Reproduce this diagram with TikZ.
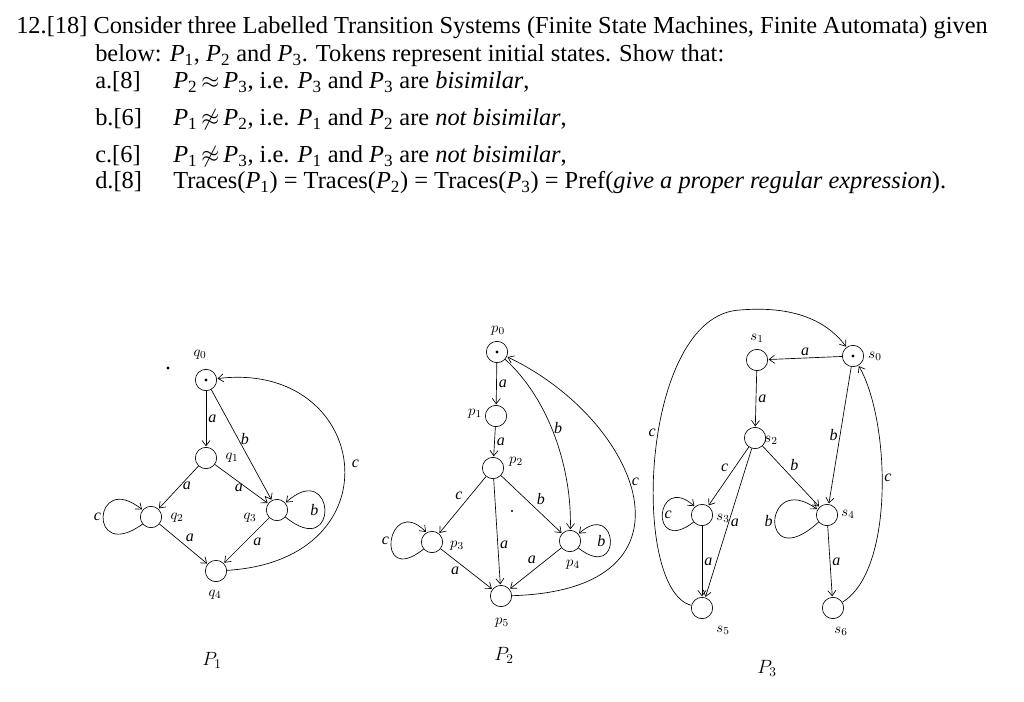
\documentclass[tikz,border=0pt]{standalone}
\usepackage{fontspec}
\setmainfont{Liberation Serif}
\usetikzlibrary{arrows.meta}
\newcommand{\Pn}[1]{{\itshape P}\textsubscript{#1}}
\begin{document}
\begin{tikzpicture}[x=0.75pt,y=-0.75pt,
  st/.style={circle,draw,minimum size=16pt,inner sep=0pt,line width=0.5pt},
  lb/.style={font=\itshape\fontsize{12}{12}\selectfont,inner sep=1.5pt},
  nm/.style={font=\fontsize{11}{11}\selectfont,inner sep=1pt},
  tx/.style={anchor=base west,inner sep=0pt,font=\fontsize{18.3}{20}\selectfont},
  ed/.style={-{Straight Barb[length=4pt,width=6pt]},line width=0.5pt,shorten >=0.5pt},
  tok/.style={circle,fill,inner sep=0.9pt}]
\useasboundingbox (0,0) rectangle (1024,702);
% text
\node[tx] (t1) at (16,34) {12.[18] Consider three Labelled Transition Systems (Finite State Machines, Finite Automata) given};
\node[tx] (t2) at (95,62) {below: \Pn{1}, \Pn{2} and \Pn{3}. Tokens represent initial states. Show that:};
\node[tx] (t3a) at (95,89) {a.[8]};
\node[tx] (t3b) at (173,89) {\Pn{2}\,$\approx$\,\Pn{3}, i.e. \Pn{3} and \Pn{3} are \textit{bisimilar},};
\node[tx] (t4a) at (95,126) {b.[6]};
\node[tx] (t4b) at (173,126) {\Pn{1}\,$\not\approx$\,\Pn{2}, i.e. \Pn{1} and \Pn{2} are \textit{not bisimilar},};
\node[tx] (t5a) at (95,163) {c.[6]};
\node[tx] (t5b) at (173,163) {\Pn{1}\,$\not\approx$\,\Pn{3}, i.e. \Pn{1} and \Pn{3} are \textit{not bisimilar},};
\node[tx] (t6a) at (95,189) {d.[8]};
\node[tx] (t6b) at (173,189) {Traces(\Pn{1}) = Traces(\Pn{2}) = Traces(\Pn{3}) = Pref(\textit{give a proper regular expression}).};
% ---------- P1
\node[st] (q0) at (206,380) {};
\node[tok] (q0t) at (206,380) {};
\node[st] (q1) at (206,458) {};
\node[st] (q2) at (151,517) {};
\node[st] (q3) at (277,510) {};
\node[st] (q4) at (216,571) {};
\node[tok,inner sep=0.8pt] (d1) at (168,368) {};
\node[nm] (lq0) at (200,355) {$q_0$};
\node[nm] (lq1) at (232,458) {$q_1$};
\node[nm] (lq2) at (177,518) {$q_2$};
\node[nm] (lq3) at (250,518) {$q_3$};
\node[nm] (lq4) at (215,595) {$q_4$};
\node[font=\fontsize{14}{14}\selectfont] (P1) at (212,660) {$P_1$};
\draw[ed] (q0) -- node[lb,right] {a} (q1);
\draw[ed] (q0) -- node[lb,right,pos=0.45] {b} (q3);
\draw[ed] (q1) -- node[lb,right,pos=0.45] {a} (q2);
\draw[ed] (q1) -- node[lb,below,pos=0.45] {a} (q3);
\draw[ed] (q2) -- node[lb,above right,pos=0.5] {a} (q4);
\draw[ed] (q3) -- node[lb,below right,pos=0.4] {a} (q4);
\draw[ed] (q4) .. controls (400,560) and (370,360) .. node[lb,pos=0.5,right=4pt] {c} (q0);
\draw[ed] (q2.220) .. controls +(-55,40) and +(-50,-40) .. node[lb,left] {c} (q2.140);
\draw[ed] (q3.-40) .. controls +(55,45) and +(50,-45) .. node[lb,left,xshift=-3pt] {b} (q3.40);
% ---------- P2
\node[st] (p0) at (497,352) {};
\node[tok] (p0t) at (497,352) {};
\node[st] (p1) at (496,416) {};
\node[st] (p2) at (493,468) {};
\node[st] (p3) at (432,542) {};
\node[st] (p4) at (570,541) {};
\node[st] (p5) at (501,596) {};
\node[tok,inner sep=0.6pt] (d2) at (512,511) {};
\node[nm] (lp0) at (498,331) {$p_0$};
\node[nm] (lp1) at (475,414) {$p_1$};
\node[nm] (lp2) at (516,462) {$p_2$};
\node[nm] (lp3) at (457,546) {$p_3$};
\node[nm] (lp4) at (573,565) {$p_4$};
\node[nm] (lp5) at (502,623) {$p_5$};
\node[font=\fontsize{14}{14}\selectfont] (P2) at (504,655) {$P_2$};
\draw[ed] (p0) -- node[lb,right] {a} (p1);
\draw[ed] (p1) -- node[lb,right] {a} (p2);
\draw[ed] (p2) -- node[lb,above left,pos=0.45] {c} (p3);
\draw[ed] (p2) -- node[lb,right,pos=0.62] {a} (p5);
\draw[ed] (p2) -- node[lb,above right,pos=0.55] {b} (p4);
\draw[ed] (p3) -- node[lb,below left,pos=0.4] {a} (p5);
\draw[ed] (p4) -- node[lb,above left,pos=0.45] {a} (p5);
\draw[ed] (p0) .. controls (550,400) and (572,470) .. node[lb,right,pos=0.45] {b} (p4);
\draw[ed] (p5) .. controls (710,590) and (640,420) .. node[lb,right,pos=0.55] {c} (p0);
\draw[ed] (p3.220) .. controls +(-50,40) and +(-40,-40) .. node[lb,left] {c} (p3.120);
\draw[ed] (p4.-40) .. controls +(45,35) and +(40,-35) .. node[lb,left,xshift=-2pt] {b} (p4.40);
% ---------- P3
\node[st] (s0) at (853,356) {};
\node[tok] (s0t) at (853,356) {};
\node[st] (s1) at (757,360) {};
\node[st] (s2) at (755,438) {};
\node[st] (s3) at (702,515) {};
\node[st] (s4) at (827,515) {};
\node[st] (s5) at (702,608) {};
\node[st] (s6) at (833,608) {};
\node[nm] (ls0) at (875,356) {$s_0$};
\node[nm] (ls1) at (757,338) {$s_1$};
\node[nm] (ls2) at (771,440) {$s_2$};
\node[nm] (ls3) at (723,518) {$s_3$};
\node[nm] (ls4) at (848,514) {$s_4$};
\node[nm] (ls5) at (723,630) {$s_5$};
\node[nm] (ls6) at (841,631) {$s_6$};
\node[font=\fontsize{14}{14}\selectfont] (P3) at (767,668) {$P_3$};
\coordinate (ctop) at (740,310);
\draw[ed] (s0) -- node[lb,above,pos=0.5] {a} (s1);
\draw[ed] (s1) -- node[lb,right] {a} (s2);
\draw[ed] (s2) -- node[lb,above left,pos=0.45] {c} (s3);
\draw[ed] (s2) -- node[lb,above right,pos=0.45] {b} (s4);
\draw[ed] (s2) -- node[lb,right,pos=0.5] {a} (s5);
\draw[ed] (s3) -- node[lb,right] {a} (s5);
\draw[ed] (s4) -- node[lb,right] {a} (s6);
\draw[ed] (s0) -- node[lb,left,pos=0.5] {b} (s4);
\draw[ed] (s6) .. controls (895,570) and (890,420) .. node[lb,right,pos=0.55] {c} (s0);
\draw[ed] (s5) .. controls (630,590) and (640,315) .. node[lb,left,pos=0.55] {c} (ctop) .. controls (800,305) and (830,325) .. (s0);
\draw[ed] (s3.220) .. controls +(-45,35) and +(-40,-35) .. node[lb,right,pos=0.5] {c} (s3.130);
\draw[ed] (s4.220) .. controls +(-60,55) and +(-55,-40) .. node[lb,left] {b} (s4.150);
\end{tikzpicture}
\end{document}
